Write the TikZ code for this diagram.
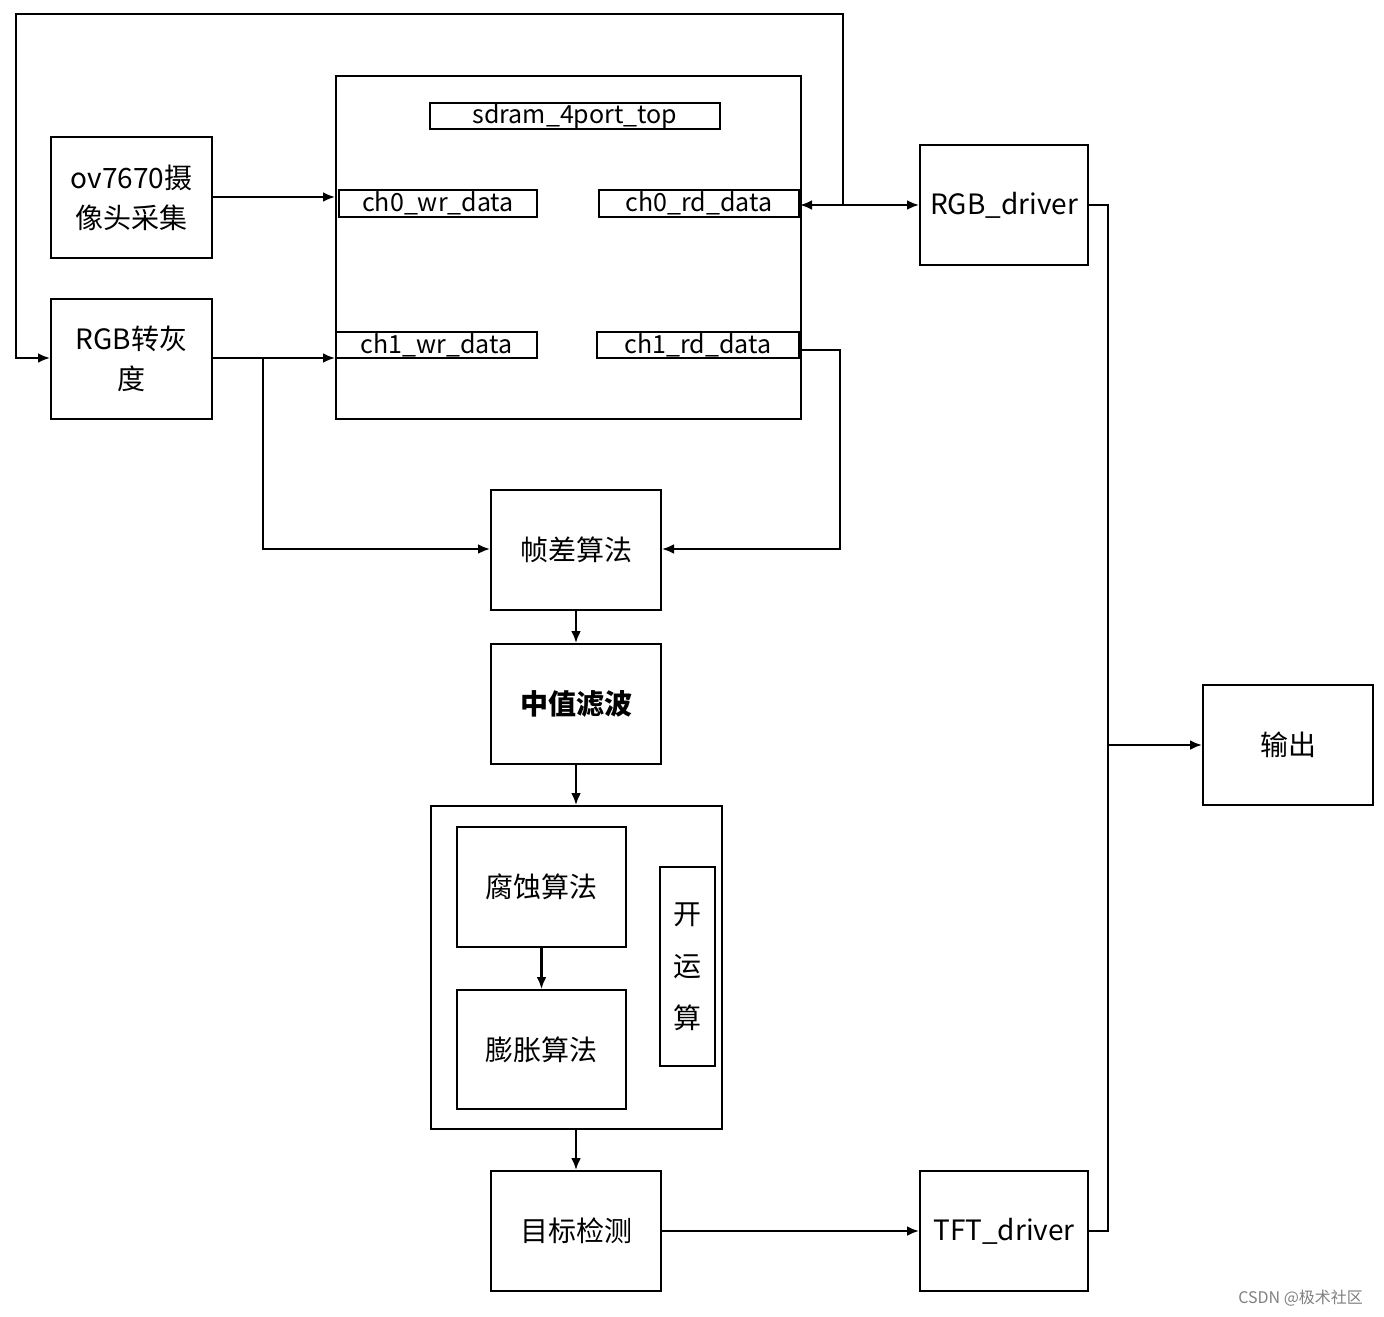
\documentclass[tikz,border=0pt]{standalone}
\usepackage{fontspec}
\setmainfont{Noto Sans CJK SC}
\usetikzlibrary{arrows.meta}
\begin{document}
\begin{tikzpicture}[x=0.5pt,y=-0.5pt,
  box/.style={draw,line width=1.2pt,inner sep=0pt,align=center,font=\fontsize{14}{18}\selectfont},
  lab/.style={draw,line width=1.2pt,inner sep=0pt,font=\fontsize{12.5}{14}\selectfont},
  ar/.style={line width=1.2pt,-{Latex[length=6pt,width=5pt]}},
  ln/.style={line width=1.2pt}]
\useasboundingbox (0,0) rectangle (1384,1316);
\newcommand\bx[6]{\node[#6,minimum width=#4*0.5pt-1.2pt,minimum height=#5*0.5pt-1.2pt] (#1) at ({#2+#4/2},{#3+#5/2}) {};}
% boxes
\bx{ov}{50}{136}{163}{123}{box}\node[font=\fontsize{14}{20}\selectfont,align=center] at (ov.center) {ov7670摄\\像头采集};
\bx{rgb}{50}{298}{163}{122}{box}\node[font=\fontsize{14}{20}\selectfont,align=center] at (rgb.center) {RGB转灰\\度};
\bx{sd}{335}{75}{467}{345}{box}
\bx{top}{429}{102}{292}{28}{lab}\node[font=\fontsize{12.5}{14}\selectfont] at (top.center) {sdram\_4port\_top};
\bx{c0w}{338}{189}{200}{29}{lab}\node[font=\fontsize{12.5}{14}\selectfont] at (c0w.center) {ch0\_wr\_data};
\bx{c0r}{598}{189}{202}{29}{lab}\node[font=\fontsize{12.5}{14}\selectfont] at (c0r.center) {ch0\_rd\_data};
\bx{c1w}{335}{331}{203}{28}{lab}\node[font=\fontsize{12.5}{14}\selectfont] at (c1w.center) {ch1\_wr\_data};
\bx{c1r}{596}{331}{204}{28}{lab}\node[font=\fontsize{12.5}{14}\selectfont] at (c1r.center) {ch1\_rd\_data};
\bx{fc}{490}{489}{172}{122}{box}\node[font=\fontsize{14}{18}\selectfont] at (fc.center) {帧差算法};
\bx{zz}{490}{643}{172}{122}{box}\node[font=\bfseries\fontsize{14}{18}\selectfont] at (zz.center) {中值滤波};
\bx{ob}{430}{805}{293}{325}{box}
\bx{fs}{456}{826}{171}{122}{box}\node[font=\fontsize{14}{18}\selectfont] at (fs.center) {腐蚀算法};
\bx{pz}{456}{989}{171}{121}{box}\node[font=\fontsize{14}{18}\selectfont] at (pz.center) {膨胀算法};
\bx{ky}{659}{866}{57}{201}{box}\node[font=\fontsize{14}{26}\selectfont,align=center] at (ky.center) {开\\运\\算};
\bx{mb}{490}{1170}{172}{122}{box}\node[font=\fontsize{14}{18}\selectfont] at (mb.center) {目标检测};
\bx{tft}{919}{1170}{170}{122}{box}\node[font=\fontsize{14}{18}\selectfont] at (tft.center) {TFT\_driver};
\bx{rd}{919}{144}{170}{122}{box}\node[font=\fontsize{14}{18}\selectfont] at (rd.center) {RGB\_driver};
\bx{out}{1202}{684}{172}{122}{box}\node[font=\fontsize{14}{18}\selectfont] at (out.center) {输出};
% connectors
\coordinate (j0) at (843,205);
\draw[ar] (843,205) -- (843,14) -- (16,14) -- (16,358) -- (rgb.west|-0,358);
\draw[ar] (ov.east|-0,197) -- (sd.west|-0,197);
\draw[ar] (rgb.east|-0,358) -- (sd.west|-0,358);
\draw[ar] (263,358) -- (263,549) -- (fc.west|-0,549);
\draw[ar] (c1r.east|-0,350) -- (840,350) -- (840,549) -- (fc.east|-0,549);
\draw[line width=1.2pt,{Latex[length=6pt,width=5pt]}-{Latex[length=6pt,width=5pt]}] (c0r.east|-0,205) -- (rd.west|-0,205);
\draw[ar] (fc.south-|576,0) -- (zz.north-|576,0);
\draw[ar] (zz.south-|576,0) -- (ob.north-|576,0);
\draw[ar] (ob.south-|576,0) -- (mb.north-|576,0);
\draw[ar] (fs) -- (pz);
\draw[ar] (mb.east|-0,1231) -- (tft.west|-0,1231);
\draw[ln] (rd.east|-0,205) -- (1108,205) -- (1108,1231) -- (tft.east|-0,1231);
\draw[ar] (1108,745) -- (out.west|-0,745);
\node[text=gray,font=\fontsize{8}{10}\selectfont,anchor=east] (wm) at (1370,1298) {CSDN @极术社区};
\end{tikzpicture}
\end{document}
